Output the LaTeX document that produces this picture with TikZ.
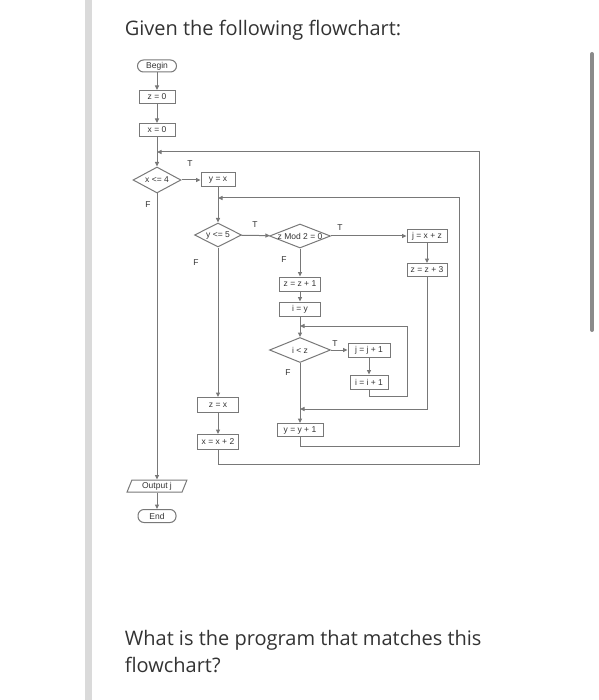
\documentclass[tikz,border=0pt]{standalone}
\usepackage{fontspec}
\setmainfont{Open Sans}
\newfontfamily\chartfont{Liberation Sans}
\usetikzlibrary{arrows.meta, shapes.geometric}
\definecolor{flowline}{HTML}{787878}
\definecolor{ink}{HTML}{333333}
\definecolor{panel}{HTML}{DADADA}
\definecolor{thumb}{HTML}{8A8A8A}
\newcommand{\cond}[1]{\makebox[0pt]{#1}}
\tikzset{
  box/.style={draw, inner sep=0pt, minimum width=40pt, minimum height=14pt,
    text=ink, font=\chartfont\fontsize{8.5}{9}\selectfont},
  term/.style={box, rounded corners=6pt},
  test/.style={box, diamond},
  io/.style={box, trapezium, trapezium left angle=70, trapezium right angle=110,
    trapezium stretches=true},
  tag/.style={text=ink, font=\chartfont\fontsize{8.5}{9}\selectfont},
  prose/.style={anchor=base west, text=ink, align=left,
    font=\fontsize{20}{27}\selectfont}
}
\begin{document}
\begin{tikzpicture}[x=1pt, y=-1pt, color=flowline, line width=1pt,
  >={Triangle[length=4.5pt, width=4pt]}]
        \useasboundingbox (0, 0) rectangle (598, 700);
        \fill[panel] (85, 0) rectangle (92, 700);
        \draw[thumb, line width=4pt, line cap=round] (592, 54) -- (592, 330);
        \node[prose] (title) at (121, 36) {Given the following flowchart:};
        \node[prose] (question) at (121, 672) {What is the program that matches this\\flowchart?};
        % outer part
        \node[term, minimum width=39pt, minimum height=12pt] (begin) at (157, 66) {Begin};
        \node[box, minimum width=36pt, minimum height=13pt] (z0) at (157, 97) {z = 0};
        \node[box, minimum width=36pt, minimum height=13pt] (x0) at (157, 130) {x = 0};
        \coordinate (m1) at (157, 152);
        \node[test, minimum width=48pt, minimum height=26pt] (d1) at (157, 180) {\cond{x <= 4}};
        \node[box, minimum width=34pt] (yx) at (218, 180) {y = x};
        \coordinate (m2) at (218, 198);
        \node[test, minimum width=47pt, minimum height=24pt] (d2) at (218, 235) {\cond{y <= 5}};
        \node[box, minimum width=41pt, minimum height=15pt] (zx) at (218, 405) {z = x};
        \node[box, minimum width=41pt, minimum height=15pt] (xx2) at (218, 442) {x = x + 2};
        \node[io, minimum width=60pt, minimum height=12pt] (out) at (157, 486) {Output j};
        \node[term, minimum width=38pt, minimum height=13pt] (end) at (157, 516) {End};
        % inner part
        \node[test, minimum width=61pt, minimum height=24pt] (d3) at (300, 236) {\cond{z Mod 2 = 0}};
        \node[box, minimum height=13pt] (jxz) at (427, 236) {j = x + z};
        \node[box, minimum height=13pt] (zz3) at (427, 270) {z = z + 3};
        \node[box, minimum width=41pt] (zz1) at (300, 284) {z = z + 1};
        \node[box, minimum width=41pt] (iy) at (300, 309) {i = y};
        \coordinate (m3) at (300, 326);
        \node[test, minimum width=61pt, minimum height=25pt] (d4) at (300, 350) {\cond{i < z}};
        \node[box, minimum width=42pt] (jj1) at (369, 350) {j = j + 1};
        \node[box, minimum width=38pt] (ii1) at (369, 382) {i = i + 1};
        \coordinate (m4) at (300, 409);
        \node[box, minimum width=46pt, minimum height=13pt] (yy1) at (300, 430) {y = y + 1};
        % branch tags
        \node[tag] (t1) at (190, 164) {T};
        \node[tag] (f1) at (148, 205) {F};
        \node[tag] (t2) at (255, 225) {T};
        \node[tag] (f2) at (196, 263) {F};
        \node[tag] (t3) at (340, 228) {T};
        \node[tag] (f3) at (284, 260) {F};
        \node[tag] (t4) at (335, 344) {T};
        \node[tag] (f4) at (288, 373) {F};
        % connectors
        \draw[->] (begin) -- (z0);
        \draw[->] (z0) -- (x0);
        \draw[->] (x0) -- (d1);
        \draw[->] (d1) -- (yx);
        \draw[->] (d1) -- (out);
        \draw[->] (out) -- (end);
        \draw[->] (yx) -- (d2);
        \draw[->] (d2) -- (d3);
        \draw[->] (d2) -- (zx);
        \draw[->] (zx) -- (xx2);
        \draw[->] (xx2.south) |- (479, 464) |- (m1);
        \draw[->] (d3) -- (jxz);
        \draw[->] (d3) -- (zz1);
        \draw[->] (jxz) -- (zz3);
        \draw[->] (zz3.south) |- (m4);
        \draw[->] (zz1) -- (iy);
        \draw[->] (iy) -- (d4);
        \draw[->] (d4) -- (jj1);
        \draw[->] (d4) -- (yy1);
        \draw[->] (jj1) -- (ii1);
        \draw[->] (ii1.south) |- (407, 396) |- (m3);
        \draw[->] (yy1.south) |- (459, 446) |- (m2);
\end{tikzpicture}
\end{document}
